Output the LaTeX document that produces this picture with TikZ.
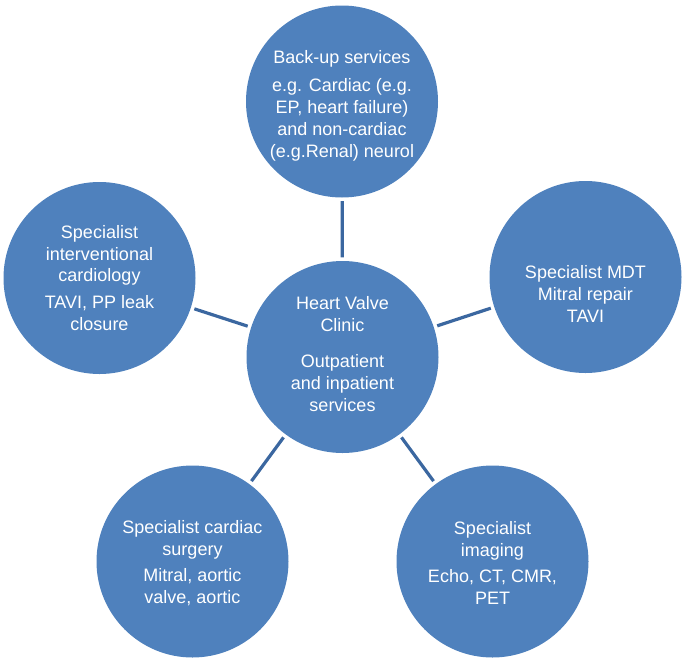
\documentclass[tikz,border=0pt]{standalone}
\usepackage{fontspec}
\setmainfont{Liberation Sans}
\usetikzlibrary{positioning}
\definecolor{hubblue}{HTML}{4F81BD}
\definecolor{linkblue}{HTML}{3B67A0}
\begin{document}
\begin{tikzpicture}[x=1pt, y=-1pt,
  hub/.style={circle, fill=hubblue, draw=none, minimum size=192pt, inner sep=0pt},
  hubtext/.style={text=white, align=center, inner sep=0pt, font=\fontsize{18}{21.7}\selectfont},
  link/.style={draw=linkblue, line width=3.2pt, shorten <=3.5pt, shorten >=3.5pt}]

\useasboundingbox (0,0) rectangle (685,662);

%//clinic in the middle, five services round it
\node [hub] (clinic) at (342.5, 357) {};
\node [hub] (backup) at (342, 101.5) {};
\node [hub] (interv) at (99.5, 278) {};
\node [hub] (mdt) at (585.5, 277) {};
\node [hub] (surgery) at (192.5, 561.5) {};
\node [hub] (imaging) at (492.5, 561.5) {};

\node [hubtext] (clinictext) at (342.5, 354) {Heart Valve\\Clinic\\[15pt]Outpatient\\and inpatient\\services};
\node [hubtext] (backuptext) at (342, 105.5) {Back-up services\\[7pt]e.g. Cardiac (e.g.\\EP, heart failure)\\and non-cardiac\\(e.g.Renal) neurol};
\node [hubtext] (intervtext) at (99.5, 278) {Specialist\\interventional\\cardiology\\[5pt]TAVI, PP leak\\closure};
\node [hubtext] (mdttext) at (585.5, 294) {Specialist MDT\\Mitral repair\\TAVI};
\node [hubtext] (surgerytext) at (192.5, 563) {Specialist cardiac\\surgery\\[5pt]Mitral, aortic\\valve, aortic};
\node [hubtext] (imagingtext) at (492.5, 563) {Specialist\\imaging\\[5pt]Echo, CT, CMR,\\PET};

\foreach \x in {backup, interv, mdt, surgery, imaging}
\draw [link] (clinic) -- (\x);

\end{tikzpicture}
\end{document}
